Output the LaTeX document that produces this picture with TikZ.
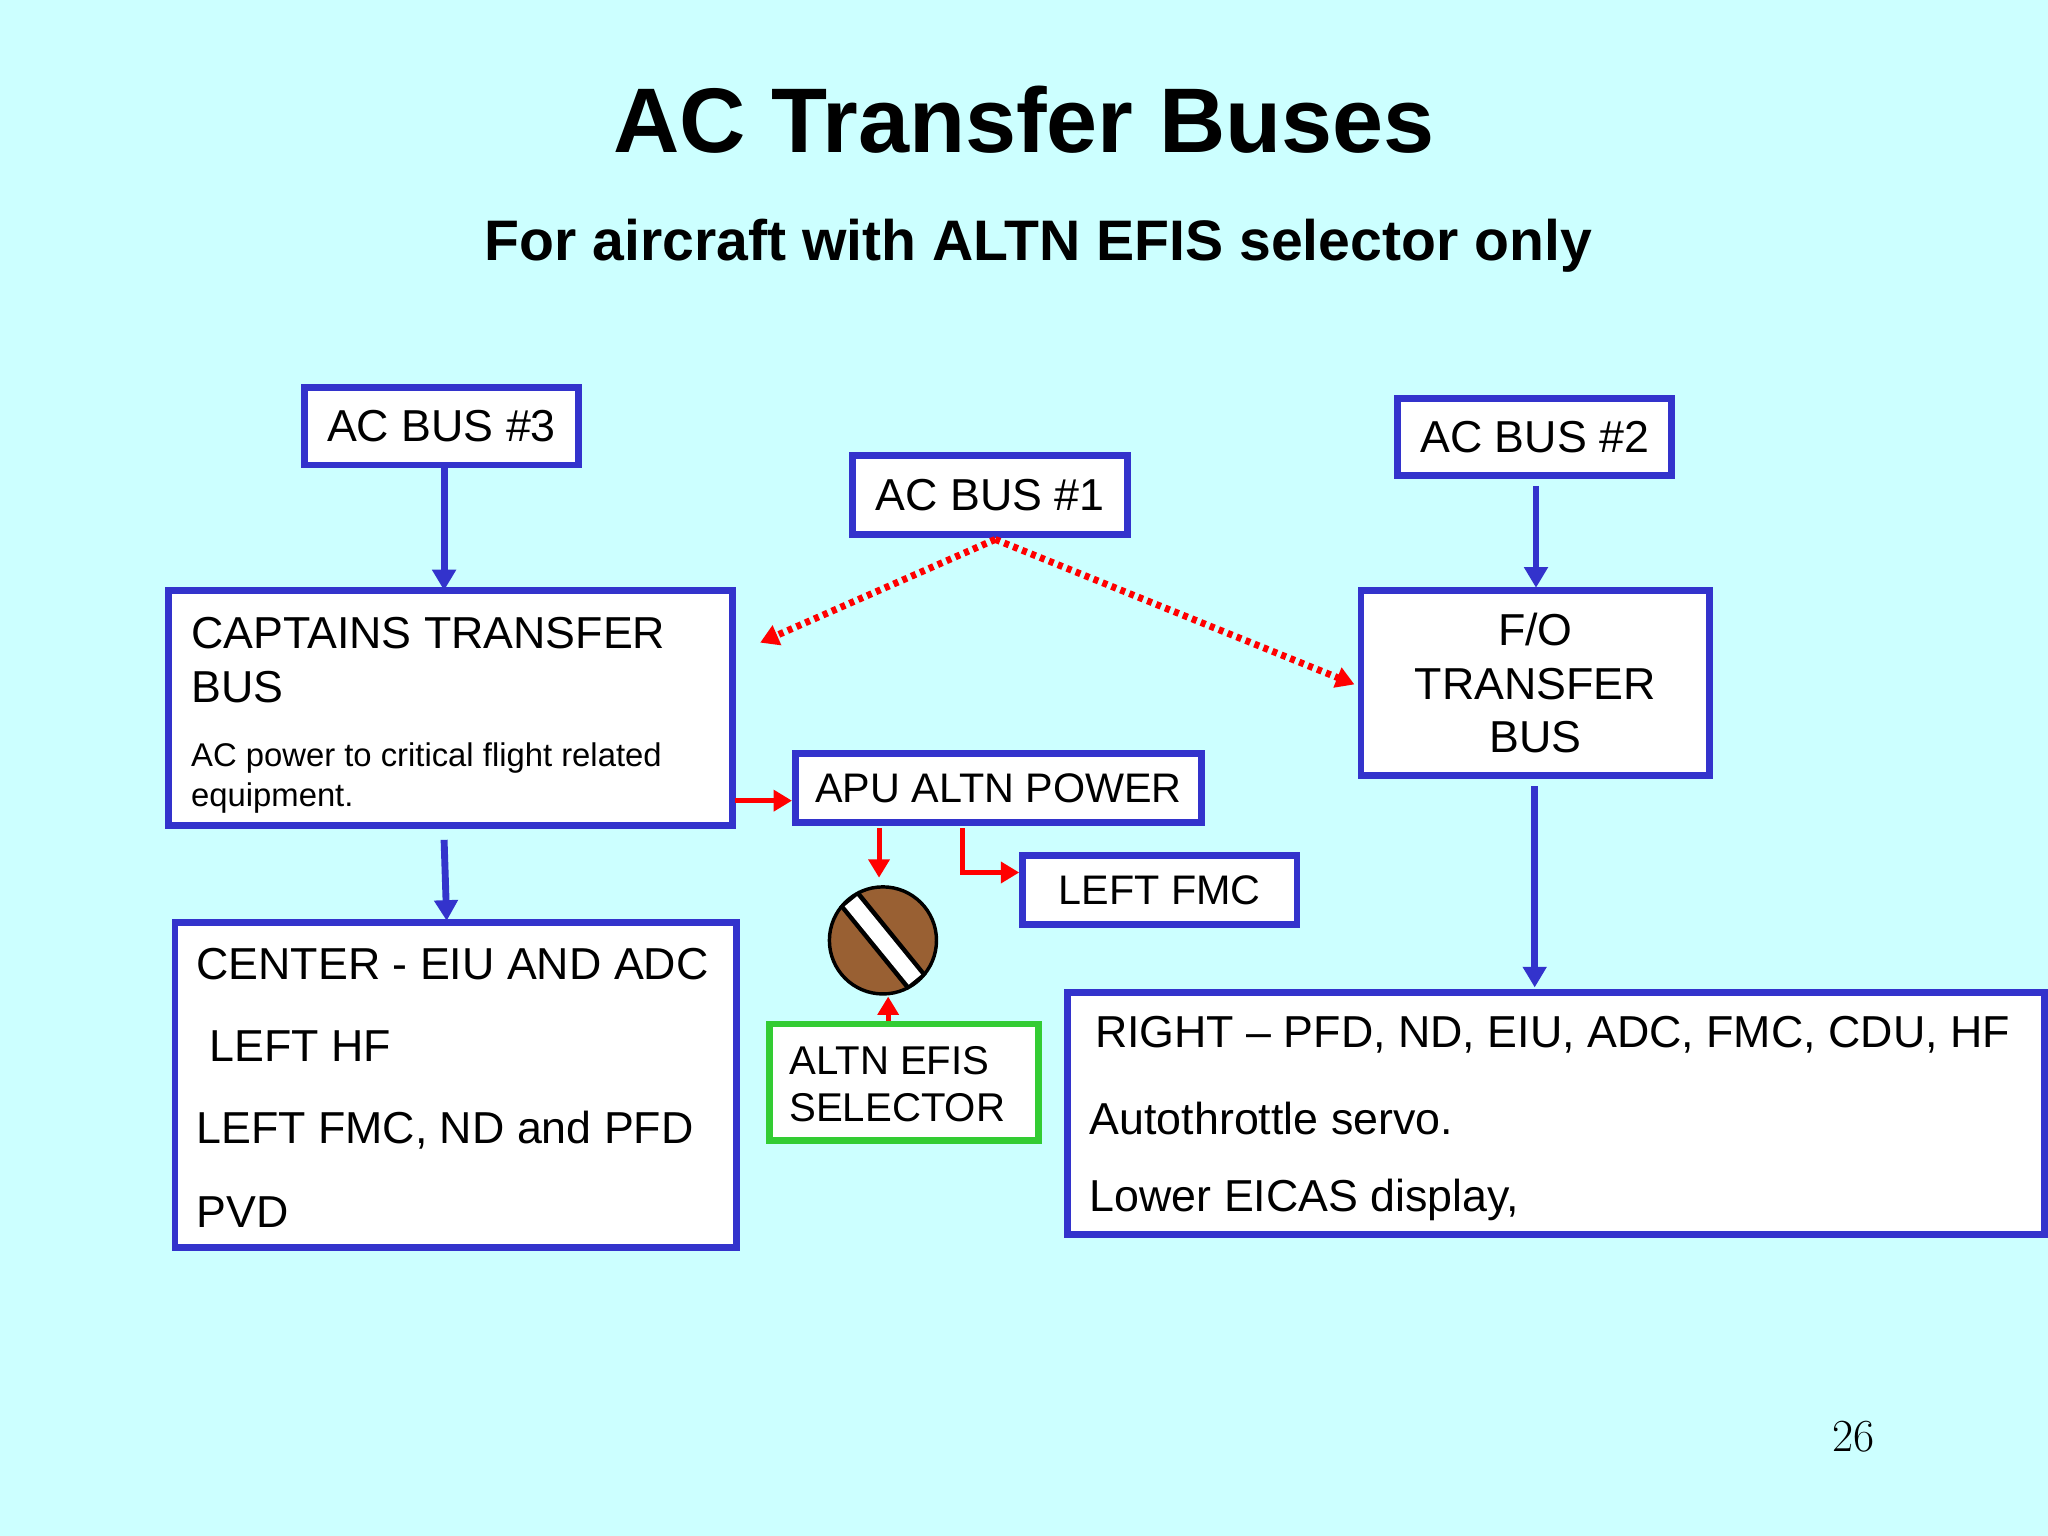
\documentclass[tikz,border=0pt]{standalone}
\usepackage{fontspec}
\setmainfont{Liberation Sans}
\usetikzlibrary{fit,arrows.meta}
\definecolor{bg}{RGB}{204,255,255}
\definecolor{busblue}{RGB}{51,51,204}
\definecolor{selgreen}{RGB}{51,204,51}
\definecolor{knob}{RGB}{153,96,51}
\tikzset{
  box/.style={draw=busblue, line width=3pt, fill=white, inner sep=0pt},
  lbl/.style={inner sep=0pt, font=\fontsize{19.5}{23}\selectfont},
  feed/.style={draw=busblue, line width=3pt, -{Triangle[length=9pt,width=10pt]}},
  alt/.style={draw=red, line width=2.2pt, -{Triangle[length=8pt,width=9pt]}},
  altdot/.style={alt, dotted, line width=3pt}
}
\begin{document}
\begin{tikzpicture}[x=0.02cm, y=-0.02cm]
\fill[bg] (0,0) rectangle (1568,1176);
\node[inner sep=0pt, font=\bfseries\fontsize{40}{44}\selectfont] (title) at (784,92) {AC Transfer Buses};
\node[inner sep=0pt, font=\bfseries\fontsize{24.9}{30}\selectfont] (sub) at (795,188) {For aircraft with ALTN EFIS selector only};

% boxes
\node[box, fit={(233,297) (443,356)}] (bus3) {};
\node[lbl] at (bus3) {AC BUS \#3};
\node[box, fit={(653,349) (863,409)}] (bus1) {};
\node[lbl] at (bus1) {AC BUS \#1};
\node[box, fit={(1070,305) (1280,364)}] (bus2) {};
\node[lbl] at (bus2) {AC BUS \#2};
\node[box, fit={(129,452) (561,632)}] (capt) {};
\node[lbl, anchor=west] (capt1) at (146,485) {CAPTAINS TRANSFER};
\node[lbl, anchor=west] (capt2) at (146,526) {BUS};
\node[lbl, anchor=west, font=\fontsize{14.3}{17}\selectfont] (capt3) at (146,580) {AC power to critical flight related};
\node[lbl, anchor=west, font=\fontsize{14.3}{17}\selectfont] (capt4) at (146,611) {equipment.};
\node[box, fit={(1042,452) (1309,594)}] (fo) {};
\node[lbl, align=center, font=\fontsize{19.5}{23.3}\selectfont] at (fo) {F/O\\TRANSFER\\BUS};
\node[box, fit={(609,577) (920,630)}] (apu) {};
\node[lbl, font=\fontsize{18}{22}\selectfont] at (apu) {APU ALTN POWER};
\node[box, fit={(783,655) (993,708)}] (lfmc) {};
\node[lbl, font=\fontsize{18}{22}\selectfont] at (lfmc) {LEFT FMC};
\node[box, fit={(134,706) (564,955)}] (center) {};
\node[lbl, anchor=west] (c1) at (150,738) {CENTER - EIU AND ADC};
\node[lbl, anchor=west] (c2) at (160,801) {LEFT HF};
\node[lbl, anchor=west] (c3) at (150,865) {LEFT FMC, ND and PFD};
\node[lbl, anchor=west] (c4) at (150,928) {PVD};
\node[box, fit={(817,760) (1565,945)}] (right) {};
\node[lbl, anchor=west] (r1) at (838,792) {RIGHT – PFD, ND, EIU, ADC, FMC, CDU, HF};
\node[lbl, anchor=west] (r2) at (834,856) {Autothrottle servo.};
\node[lbl, anchor=west] (r3) at (834,919) {Lower EICAS display,};
\node[box, draw=selgreen, fit={(589,784) (795,873)}] (sel) {};
\node[lbl, anchor=west, align=left, font=\fontsize{17.5}{20.5}\selectfont] (selt) at (604,830) {ALTN EFIS\\SELECTOR};

% selector knob
\node[circle, draw=black, line width=1.5pt, fill=knob, minimum size=1.64cm, inner sep=0pt] (kn) at (676,720) {};
\draw[black, line width=11pt] (650,688) -- (702,752);
\draw[white, line width=7pt] (651.5,690) -- (700.5,750);

% feeds
\coordinate (b3s) at (340,358);
\draw[feed] (b3s) -- (340,452);
\draw[feed] (1176,372) -- (1176,450);
\draw[feed] (340,643) -- (342,705);
\draw[feed] (1175,602) -- (1175,756);
\coordinate (b1s) at (762,413);
\draw[altdot] (b1s) -- (582,492);
\draw[altdot] (b1s) -- (1037,524);
\draw[alt] (563,613) -- (apu.west |- 0,613);
\draw[alt] (673,634) -- (673,672);
\draw[alt] (737,634) -- (737,668) -- (lfmc.west |- 0,668);
\draw[alt] (sel.north -| 680,0) -- (680,763);

\node[inner sep=0pt, font=\fontfamily{lmr}\fontsize{20}{24}\selectfont] (page) at (1419,1100) {26};
\end{tikzpicture}
\end{document}
